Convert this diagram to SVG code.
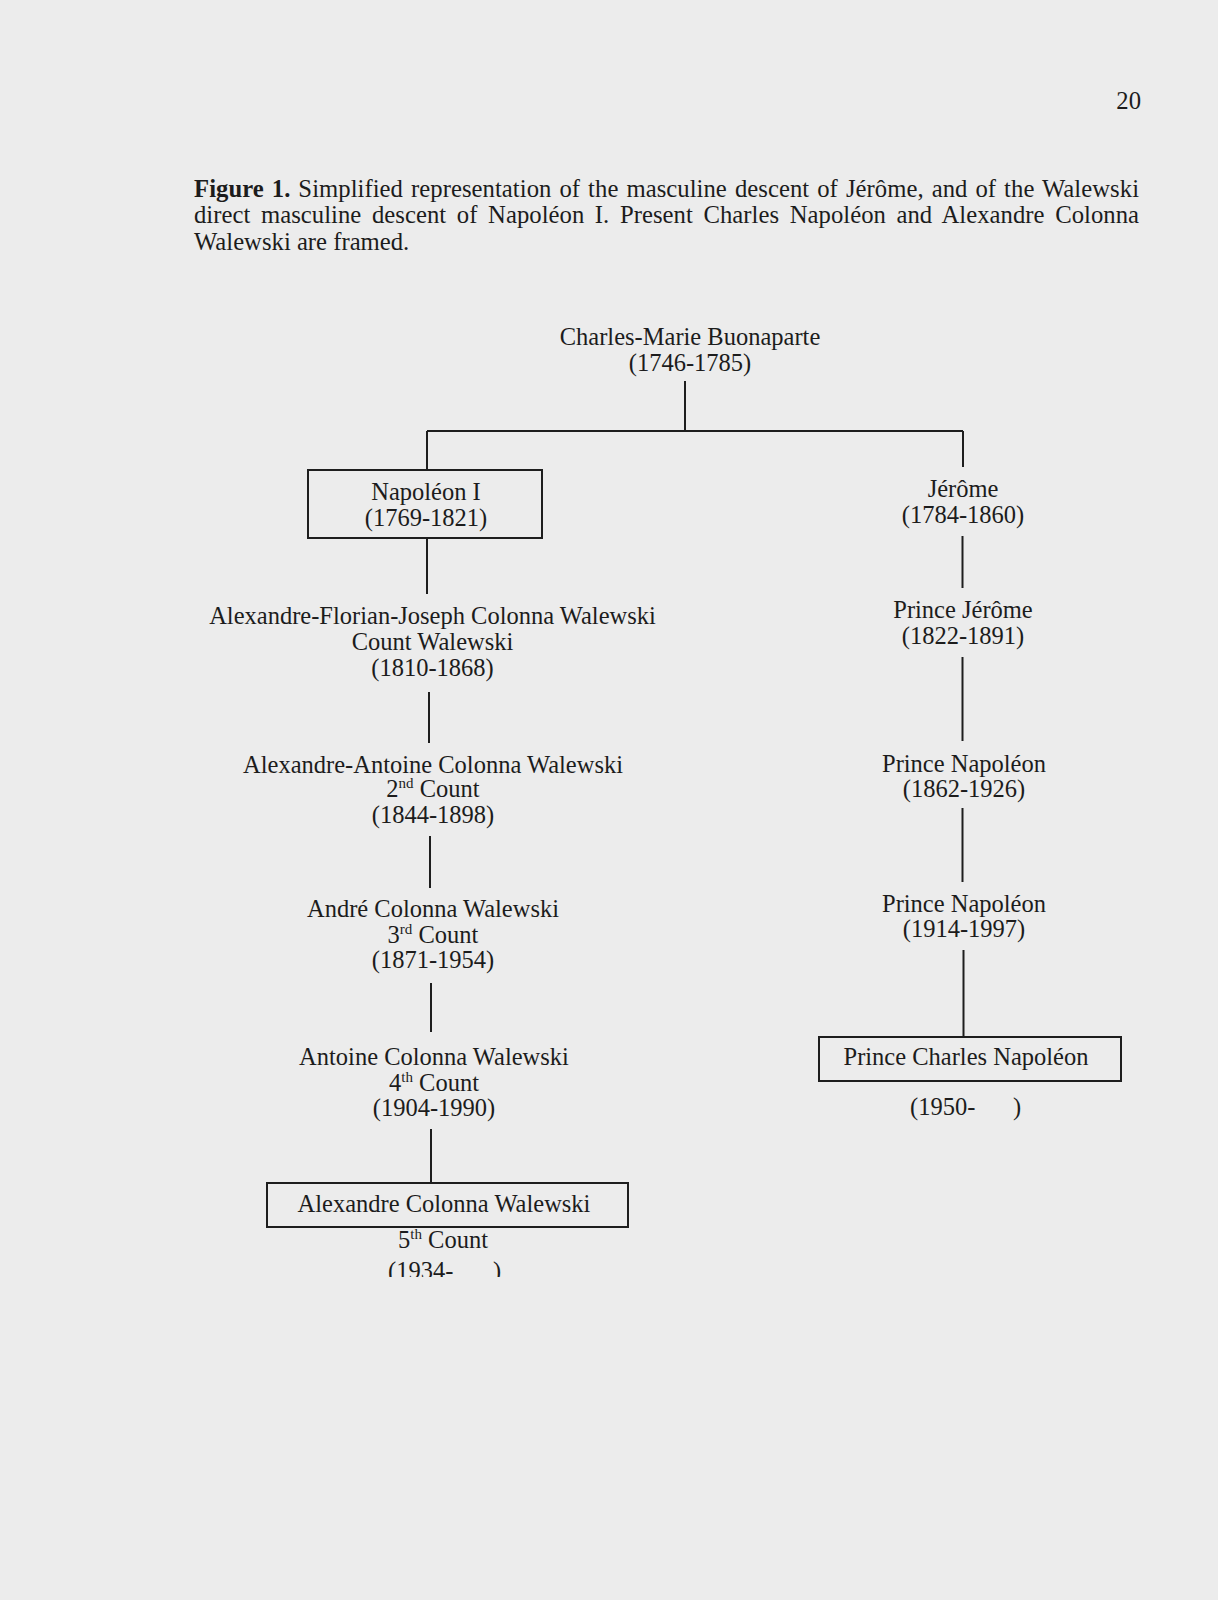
<svg xmlns="http://www.w3.org/2000/svg" width="1218" height="1600" viewBox="0 0 1218 1600">
<defs>
<style>
.t{font-family:"Liberation Serif","Times New Roman",serif;font-size:24.5px;fill:#1c1c1c;text-anchor:middle}
.cap{font-family:"Liberation Serif","Times New Roman",serif;font-size:24.7px;fill:#1c1c1c}
.sup{font-size:15px}
.ln{stroke:#1e1e1e;stroke-width:2;fill:none}
.box{stroke:#1e1e1e;stroke-width:2;fill:none}
</style>
<clipPath id="cut"><rect x="0" y="0" width="1218" height="1277"/></clipPath>
</defs>
<rect width="1218" height="1600" fill="#ececec"/>
<text x="1141" y="109" class="cap" font-size="21" text-anchor="end">20</text>
<g id="caption">
<text x="194" y="197" class="cap" word-spacing="1.8" textLength="945" lengthAdjust="spacing"><tspan font-weight="bold">Figure 1.</tspan> Simplified representation of the masculine descent of Jérôme, and of the Walewski</text>
<text x="194" y="223" class="cap" word-spacing="4.4" textLength="945" lengthAdjust="spacing">direct masculine descent of Napoléon I. Present Charles Napoléon and Alexandre Colonna</text>
<text x="194" y="250" class="cap">Walewski are framed.</text>
</g>
<g id="connectors">
<path class="ln" d="M685 381V431M427 431H963M427 431V470M963 431V467"/>
<path class="ln" d="M427 538V594M429 692V743M430 836V888M431 983V1032M431 1129V1183"/>
<path class="ln" d="M962.5 536V588M962.5 657V741M962.5 808V882M963.5 950V1037"/>
</g>
<g id="charles-marie">
<text class="t" x="690" y="345">Charles-Marie Buonaparte</text>
<text class="t" x="690" y="371">(1746-1785)</text>
</g>
<g id="napoleon-i">
<rect class="box" x="308" y="470" width="234" height="68"/>
<text class="t" x="426" y="500">Napoléon I</text>
<text class="t" x="426" y="526">(1769-1821)</text>
</g>
<g id="jerome">
<text class="t" x="963" y="497">Jérôme</text>
<text class="t" x="963" y="523">(1784-1860)</text>
</g>
<g id="alexandre-florian">
<text class="t" x="432.5" y="624">Alexandre-Florian-Joseph Colonna Walewski</text>
<text class="t" x="432.5" y="650">Count Walewski</text>
<text class="t" x="432.5" y="676">(1810-1868)</text>
</g>
<g id="alexandre-antoine">
<text class="t" x="433" y="773">Alexandre-Antoine Colonna Walewski</text>
<text class="t" x="433" y="797">2<tspan class="sup" dy="-9">nd</tspan><tspan dy="9"> Count</tspan></text>
<text class="t" x="433" y="823">(1844-1898)</text>
</g>
<g id="andre">
<text class="t" x="433" y="917">André Colonna Walewski</text>
<text class="t" x="433" y="943">3<tspan class="sup" dy="-9">rd</tspan><tspan dy="9"> Count</tspan></text>
<text class="t" x="433" y="968">(1871-1954)</text>
</g>
<g id="antoine">
<text class="t" x="434" y="1065">Antoine Colonna Walewski</text>
<text class="t" x="434" y="1091">4<tspan class="sup" dy="-9">th</tspan><tspan dy="9"> Count</tspan></text>
<text class="t" x="434" y="1116">(1904-1990)</text>
</g>
<g id="alexandre-colonna">
<rect class="box" x="267" y="1183" width="361" height="44"/>
<text class="t" x="444" y="1212">Alexandre Colonna Walewski</text>
<text class="t" x="443" y="1248">5<tspan class="sup" dy="-9">th</tspan><tspan dy="9"> Count</tspan></text>
<text class="t" x="388" y="1279" style="text-anchor:start" clip-path="url(#cut)">(1934-<tspan x="493">)</tspan></text>
</g>
<g id="prince-jerome">
<text class="t" x="963" y="618">Prince Jérôme</text>
<text class="t" x="963" y="644">(1822-1891)</text>
</g>
<g id="prince-napoleon-1862">
<text class="t" x="964" y="772">Prince Napoléon</text>
<text class="t" x="964" y="797">(1862-1926)</text>
</g>
<g id="prince-napoleon-1914">
<text class="t" x="964" y="912">Prince Napoléon</text>
<text class="t" x="964" y="937">(1914-1997)</text>
</g>
<g id="prince-charles">
<rect class="box" x="819" y="1037" width="302" height="44"/>
<text class="t" x="966" y="1065">Prince Charles Napoléon</text>
<text class="t" x="910" y="1115" style="text-anchor:start">(1950-<tspan x="1013">)</tspan></text>
</g>
</svg>
